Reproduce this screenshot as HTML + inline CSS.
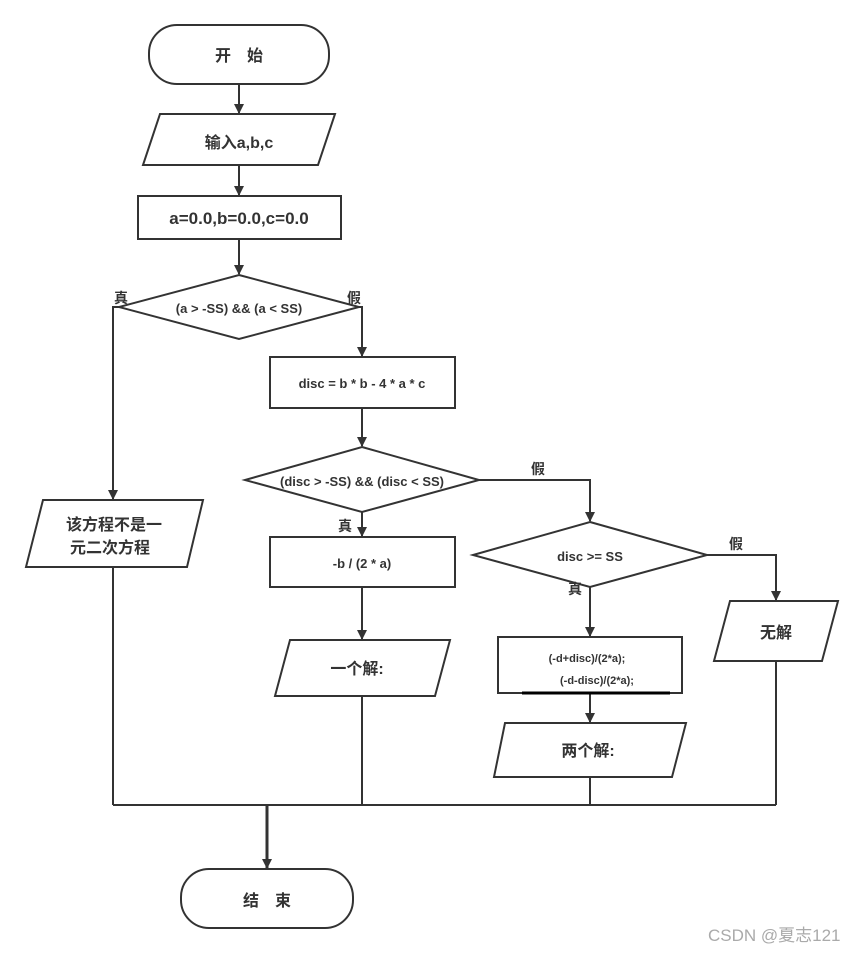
<!DOCTYPE html>
<html><head><meta charset="utf-8"><style>
html,body{margin:0;padding:0;background:#fff;}
svg text{font-family:"Liberation Sans","Noto Sans CJK SC",sans-serif;font-weight:bold;fill:#333;}
</style></head><body>
<svg width="864" height="952" viewBox="0 0 864 952" xmlns="http://www.w3.org/2000/svg">
<defs><marker id="a" markerWidth="10" markerHeight="10" refX="9" refY="5" orient="auto" markerUnits="userSpaceOnUse"><path d="M0,0 L10,5 L0,10 z" fill="#333"/></marker></defs>
<g stroke="#333" stroke-width="2" fill="none">
<rect x="149" y="25" width="180" height="59" rx="28"/>
<line x1="239" y1="84" x2="239" y2="113" marker-end="url(#a)"/>
<polygon points="160,114 335,114 318,165 143,165"/>
<line x1="239" y1="165" x2="239" y2="195" marker-end="url(#a)"/>
<rect x="138" y="196" width="203" height="43"/>
<line x1="239" y1="239" x2="239" y2="274" marker-end="url(#a)"/>
<polygon points="239,275 359,307 239,339 119,307"/>
<polyline points="119,307 113,307 113,499" marker-end="url(#a)"/>
<polyline points="359,307 362,307 362,356" marker-end="url(#a)"/>
<rect x="270" y="357" width="185" height="51"/>
<line x1="362" y1="408" x2="362" y2="446" marker-end="url(#a)"/>
<polygon points="362,447 479,480 362,512 245,480"/>
<polyline points="479,480 590,480 590,521" marker-end="url(#a)"/>
<line x1="362" y1="512" x2="362" y2="536" marker-end="url(#a)"/>
<rect x="270" y="537" width="185" height="50"/>
<line x1="362" y1="587" x2="362" y2="639" marker-end="url(#a)"/>
<polygon points="290,640 450,640 435,696 275,696"/>
<line x1="362" y1="696" x2="362" y2="805"/>
<polygon points="590,522 707,555 590,587 473,555"/>
<polyline points="707,555 776,555 776,600" marker-end="url(#a)"/>
<polygon points="730,601 838,601 822,661 714,661"/>
<line x1="776" y1="661" x2="776" y2="805"/>
<line x1="590" y1="587" x2="590" y2="636" marker-end="url(#a)"/>
<rect x="498" y="637" width="184" height="56"/>
<line x1="590" y1="693" x2="590" y2="722" marker-end="url(#a)"/>
<polygon points="505,723 686,723 672,777 494,777"/>
<line x1="590" y1="777" x2="590" y2="805"/>
<polygon points="43,500 203,500 187,567 26,567"/>
<line x1="113" y1="567" x2="113" y2="805"/>
<line x1="113" y1="805" x2="776" y2="805"/>
<line x1="267" y1="805" x2="267" y2="868" stroke-width="3" marker-end="url(#a)"/>
<rect x="181" y="869" width="172" height="59" rx="28"/>
</g>
<line x1="522" y1="693" x2="670" y2="693" stroke="#000" stroke-width="3"/>
<g font-size="16" text-anchor="middle">
<text x="239" y="61">开　始</text>
<text x="239" y="148">输入a,b,c</text>
<text x="239" y="224" font-size="17">a=0.0,b=0.0,c=0.0</text>
<text x="239" y="313" font-size="13">(a &gt; -SS) &amp;&amp; (a &lt; SS)</text>
<text x="362" y="388" font-size="13">disc = b * b - 4 * a * c</text>
<text x="362" y="486" font-size="13">(disc &gt; -SS) &amp;&amp; (disc &lt; SS)</text>
<text x="362" y="568" font-size="13">-b / (2 * a)</text>
<text x="357" y="674">一个解:</text>
<text x="590" y="561" font-size="13">disc &gt;= SS</text>
<text x="776" y="638">无解</text>
<text x="587" y="662" font-size="11">(-d+disc)/(2*a);</text>
<text x="597" y="684" font-size="11">(-d-disc)/(2*a);</text>
<text x="588" y="756">两个解:</text>
<text x="114" y="530">该方程不是一</text>
<text x="110" y="553">元二次方程</text>
<text x="267" y="906">结　束</text>
</g>
<g font-size="14">
<text x="114" y="303">真</text>
<text x="347" y="303">假</text>
<text x="531" y="474">假</text>
<text x="338" y="531">真</text>
<text x="729" y="549">假</text>
<text x="568" y="594">真</text>
</g>
<text x="708" y="941" font-size="17" style="font-weight:normal;fill:#aaa">CSDN @夏志121</text>
</svg>
</body></html>
